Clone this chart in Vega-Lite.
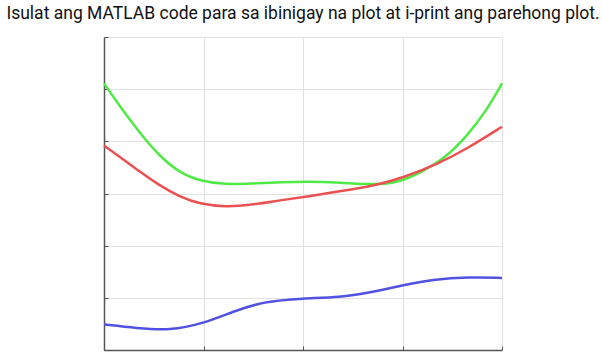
{
  "$schema": "https://vega.github.io/schema/vega-lite/v6.json",
  "width": 398,
  "height": 313,
  "autosize": {"type": "none"},
  "padding": {"left": 104, "top": 37, "right": 100, "bottom": 7},
  "background": "white",
  "title": {
    "text": "Isulat ang MATLAB code para sa ibinigay na plot at i-print ang parehong plot.",
    "font": "Roboto",
    "fontSize": 17.5,
    "fontWeight": "normal",
    "color": "#111111",
    "anchor": "middle",
    "offset": 14
  },
  "config": {"view": {"stroke": null}},
  "data": {
    "values": [
      {"s": "green", "x": 0, "y": 5.11},
      {"s": "green", "x": 0.16, "y": 4.67},
      {"s": "green", "x": 0.36, "y": 4.16},
      {"s": "green", "x": 0.56, "y": 3.71},
      {"s": "green", "x": 0.76, "y": 3.40},
      {"s": "green", "x": 0.96, "y": 3.24},
      {"s": "green", "x": 1.23, "y": 3.17},
      {"s": "green", "x": 1.47, "y": 3.19},
      {"s": "green", "x": 1.77, "y": 3.22},
      {"s": "green", "x": 2.07, "y": 3.23},
      {"s": "green", "x": 2.30, "y": 3.22},
      {"s": "green", "x": 2.74, "y": 3.16},
      {"s": "green", "x": 2.97, "y": 3.22},
      {"s": "green", "x": 3.18, "y": 3.40},
      {"s": "green", "x": 3.41, "y": 3.65},
      {"s": "green", "x": 3.65, "y": 4.10},
      {"s": "green", "x": 3.85, "y": 4.61},
      {"s": "green", "x": 4.0, "y": 5.11},
      {"s": "red", "x": 0, "y": 3.92},
      {"s": "red", "x": 0.16, "y": 3.70},
      {"s": "red", "x": 0.36, "y": 3.42},
      {"s": "red", "x": 0.56, "y": 3.15},
      {"s": "red", "x": 0.76, "y": 2.94},
      {"s": "red", "x": 0.96, "y": 2.80},
      {"s": "red", "x": 1.23, "y": 2.74},
      {"s": "red", "x": 1.47, "y": 2.78},
      {"s": "red", "x": 1.77, "y": 2.87},
      {"s": "red", "x": 2.07, "y": 2.95},
      {"s": "red", "x": 2.30, "y": 3.02},
      {"s": "red", "x": 2.74, "y": 3.16},
      {"s": "red", "x": 3.0, "y": 3.30},
      {"s": "red", "x": 3.36, "y": 3.57},
      {"s": "red", "x": 3.65, "y": 3.86},
      {"s": "red", "x": 4.0, "y": 4.28},
      {"s": "blue", "x": 0, "y": 0.49},
      {"s": "blue", "x": 0.33, "y": 0.42},
      {"s": "blue", "x": 0.66, "y": 0.37},
      {"s": "blue", "x": 1.0, "y": 0.51},
      {"s": "blue", "x": 1.3, "y": 0.74},
      {"s": "blue", "x": 1.6, "y": 0.93},
      {"s": "blue", "x": 2.0, "y": 0.99},
      {"s": "blue", "x": 2.37, "y": 1.01},
      {"s": "blue", "x": 2.67, "y": 1.10},
      {"s": "blue", "x": 3.0, "y": 1.24},
      {"s": "blue", "x": 3.3, "y": 1.35},
      {"s": "blue", "x": 3.67, "y": 1.40},
      {"s": "blue", "x": 4.0, "y": 1.38}
    ]
  },
  "mark": {"type": "line", "interpolate": "basis", "strokeWidth": 2.5},
  "encoding": {
    "x": {
      "field": "x", "type": "quantitative",
      "scale": {"domain": [0, 4], "nice": false, "zero": false},
      "axis": {"title": null, "labels": false, "values": [0, 1, 2, 3, 4], "tickSize": -4, "tickColor": "#555555", "domainColor": "#555555", "domainWidth": 1.5, "gridColor": "#e2e2e2", "grid": true}
    },
    "y": {
      "field": "y", "type": "quantitative",
      "scale": {"domain": [0, 6], "nice": false, "zero": false},
      "axis": {"title": null, "labels": false, "values": [0, 1, 2, 3, 4, 5, 6], "tickSize": -4, "tickColor": "#555555", "domainColor": "#555555", "domainWidth": 1.5, "gridColor": "#e2e2e2", "grid": true}
    },
    "color": {
      "field": "s", "type": "nominal",
      "scale": {"domain": ["green", "red", "blue"], "range": ["#4fea46", "#ea5252", "#5252e2"]},
      "legend": null
    },
    "detail": {"field": "s"}
  }
}
